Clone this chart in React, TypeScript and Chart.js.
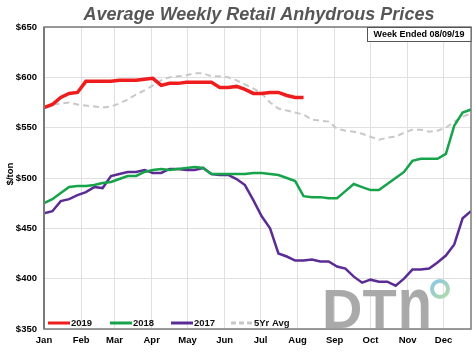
import React, { useEffect, useRef } from "react";
import { Chart, registerables } from "chart.js";

Chart.register(...registerables);

const monthLabels = ["Jan", "Feb", "Mar", "Apr", "May", "Jun", "Jul", "Aug", "Sep", "Oct", "Nov", "Dec"];
const monthStartDays = [0, 31, 59, 90, 120, 151, 181, 212, 243, 273, 304, 334];
const yTicks = [350, 400, 450, 500, 550, 600, 650];

const series2019 = [570, 573, 580, 584, 585, 596, 596, 596, 596, 597, 597, 597, 598, 599, 592, 594, 594, 595, 595, 595, 595, 590, 590, 591, 588, 584, 584, 585, 585, 582, 580, 580];
const series2018 = [475, 479, 485, 491, 492, 492, 493, 495, 496, 499, 502, 502, 506, 508, 509, 508, 509, 510, 511, 510, 504, 504, 504, 504, 504, 505, 505, 504, 503, 500, 497, 482, 481, 481, 480, 480, 487, 494, 491, 488, 488, 494, 500, 506, 517, 519, 519, 519, 524, 552, 565, 568];
const series2017 = [465, 467, 477, 479, 483, 486, 491, 490, 502, 504, 506, 506, 508, 505, 505, 509, 509, 508, 508, 510, 504, 503, 503, 499, 493, 478, 462, 450, 425, 422, 418, 418, 419, 417, 417, 412, 410, 402, 396, 399, 397, 397, 393, 400, 409, 409, 410, 416, 423, 434, 460, 467];
const series5yr = [570, 573, 574, 575, 573, 572, 571, 570, 571, 574, 578, 583, 587, 592, 597, 600, 601, 602, 604, 604, 601, 601, 600, 597, 593, 589, 584, 575, 569, 567, 565, 563, 558, 557, 556, 549, 547, 546, 544, 541, 538, 540, 541, 545, 548, 548, 546, 547, 550, 556, 561, 564];

const legendItems = [
  { label: "2019", color: "#ee1c1c", dash: [] as number[], x: 48 },
  { label: "2018", color: "#16a34a", dash: [] as number[], x: 110 },
  { label: "2017", color: "#5b2d94", dash: [] as number[], x: 171 },
  { label: "5Yr Avg", color: "#c8c8c8", dash: [5, 3], x: 231 },
];

const FONT = "'Liberation Sans', Arial, sans-serif";

const toPoints = (arr: number[]) => arr.map((v, i) => ({ x: i, y: v }));

const decor = {
  id: "decor",
  beforeDatasetsDraw(chart: any) {
    const ctx = chart.ctx;
    ctx.save();
    ctx.fillStyle = "#a9a9a9";
    ctx.font = `bold 56px ${FONT}`;
    ctx.textAlign = "left";
    ctx.textBaseline = "alphabetic";
    ctx.fillText("DT", 322, 328);
    const w = ctx.measureText("DT").width;
    ctx.save();
    ctx.translate(322 + w + 1, 328);
    ctx.scale(1, 1.3);
    ctx.fillText("n", 0, 0);
    ctx.restore();
    const g = ctx.createLinearGradient(431, 280, 449, 298);
    g.addColorStop(0, "#8ac6ec");
    g.addColorStop(1, "#b2dca0");
    ctx.strokeStyle = g;
    ctx.lineWidth = 4;
    ctx.beginPath();
    ctx.arc(440, 289, 8, 0, Math.PI * 2);
    ctx.stroke();
    ctx.restore();
  },
  afterDraw(chart: any) {
    const ctx = chart.ctx;
    const a = chart.chartArea;
    ctx.save();
    // frame
    ctx.strokeStyle = "#7a7a7a";
    ctx.lineWidth = 1.5;
    ctx.strokeRect(a.left, a.top, a.right - a.left, a.bottom - a.top);
    ctx.lineWidth = 2;
    ctx.beginPath();
    ctx.moveTo(a.left, a.top);
    ctx.lineTo(a.left, a.bottom);
    ctx.stroke();
    // title
    ctx.fillStyle = "#565656";
    ctx.font = `italic bold 18px ${FONT}`;
    ctx.textAlign = "center";
    ctx.textBaseline = "alphabetic";
    ctx.fillText("Average Weekly Retail Anhydrous Prices", 259, 20);
    // y title
    ctx.save();
    ctx.translate(10, 174);
    ctx.rotate(-Math.PI / 2);
    ctx.fillStyle = "#000";
    ctx.font = `bold 9.5px ${FONT}`;
    ctx.textAlign = "center";
    ctx.textBaseline = "middle";
    ctx.fillText("$/ton", 0, 0);
    ctx.restore();
    // date box
    ctx.fillStyle = "#fff";
    ctx.fillRect(367, a.top, a.right - 367, 14);
    ctx.strokeStyle = "#555";
    ctx.lineWidth = 1;
    ctx.strokeRect(367.5, a.top + 0.5, a.right - 367.5, 14);
    ctx.fillStyle = "#000";
    ctx.font = `bold 9px ${FONT}`;
    ctx.textAlign = "center";
    ctx.textBaseline = "middle";
    ctx.fillText("Week Ended 08/09/19", (367 + a.right) / 2, a.top + 7.5);
    // legend
    const ly = 323;
    ctx.font = `bold 9.5px ${FONT}`;
    ctx.textAlign = "left";
    legendItems.forEach((it) => {
      ctx.strokeStyle = it.color;
      ctx.lineWidth = 3;
      ctx.setLineDash(it.dash);
      ctx.beginPath();
      ctx.moveTo(it.x, ly);
      ctx.lineTo(it.x + 22, ly);
      ctx.stroke();
      ctx.setLineDash([]);
      ctx.fillStyle = "#111";
      ctx.fillText(it.label, it.x + 23, ly + 0.5);
    });
    ctx.restore();
  },
};

export default function App() {
  const ref = useRef<HTMLCanvasElement>(null);
  useEffect(() => {
    document.body.style.margin = "0";
    const chart = new Chart(ref.current as HTMLCanvasElement, {
      type: "line",
      data: {
        datasets: [
          { label: "2019", data: toPoints(series2019), borderColor: "#ee1c1c", borderWidth: 3.5, pointRadius: 0, fill: false, tension: 0 },
          { label: "2018", data: toPoints(series2018), borderColor: "#16a34a", borderWidth: 2.5, pointRadius: 0, fill: false, tension: 0 },
          { label: "2017", data: toPoints(series2017), borderColor: "#5b2d94", borderWidth: 2.5, pointRadius: 0, fill: false, tension: 0 },
          { label: "5Yr Avg", data: toPoints(series5yr), borderColor: "#c8c8c8", borderWidth: 2, borderDash: [6, 4], pointRadius: 0, fill: false, tension: 0 },
        ],
      },
      options: {
        animation: false,
        responsive: false,
        devicePixelRatio: 1,
        layout: { padding: { top: 27, right: 3, left: 0, bottom: 0 } },
        plugins: { legend: { display: false }, title: { display: false }, tooltip: { enabled: false } },
        scales: {
          x: {
            type: "linear",
            min: 0,
            max: 51,
            afterBuildTicks: (scale: any) => {
              scale.ticks = monthStartDays.map((d) => ({ value: d / 7 }));
            },
            afterFit: (scale: any) => {
              scale.height = 26;
            },
            ticks: {
              autoSkip: false,
              maxRotation: 0,
              padding: 6,
              color: "#000",
              font: { family: FONT, size: 9.5, weight: "bold" },
              callback: (_v: any, i: number) => monthLabels[i],
            },
            grid: { color: "#e0e0e0", lineWidth: 1, drawTicks: false },
            border: { display: false },
          },
          y: {
            min: yTicks[0],
            max: yTicks[yTicks.length - 1],
            afterBuildTicks: (scale: any) => {
              scale.ticks = yTicks.map((v) => ({ value: v }));
            },
            afterFit: (scale: any) => {
              scale.width = 44;
            },
            ticks: {
              padding: 7,
              color: "#000",
              font: { family: FONT, size: 9.5, weight: "bold" },
              callback: (v: any) => "$" + v,
            },
            grid: { color: "#e0e0e0", lineWidth: 1, drawTicks: false },
            border: { display: false },
          },
        },
      },
      plugins: [decor],
    } as any);
    return () => chart.destroy();
  }, []);
  return (
    <div style={{ position: "absolute", left: 0, top: 0, width: 474, height: 355 }}>
      <canvas ref={ref} width={474} height={355} />
    </div>
  );
}
